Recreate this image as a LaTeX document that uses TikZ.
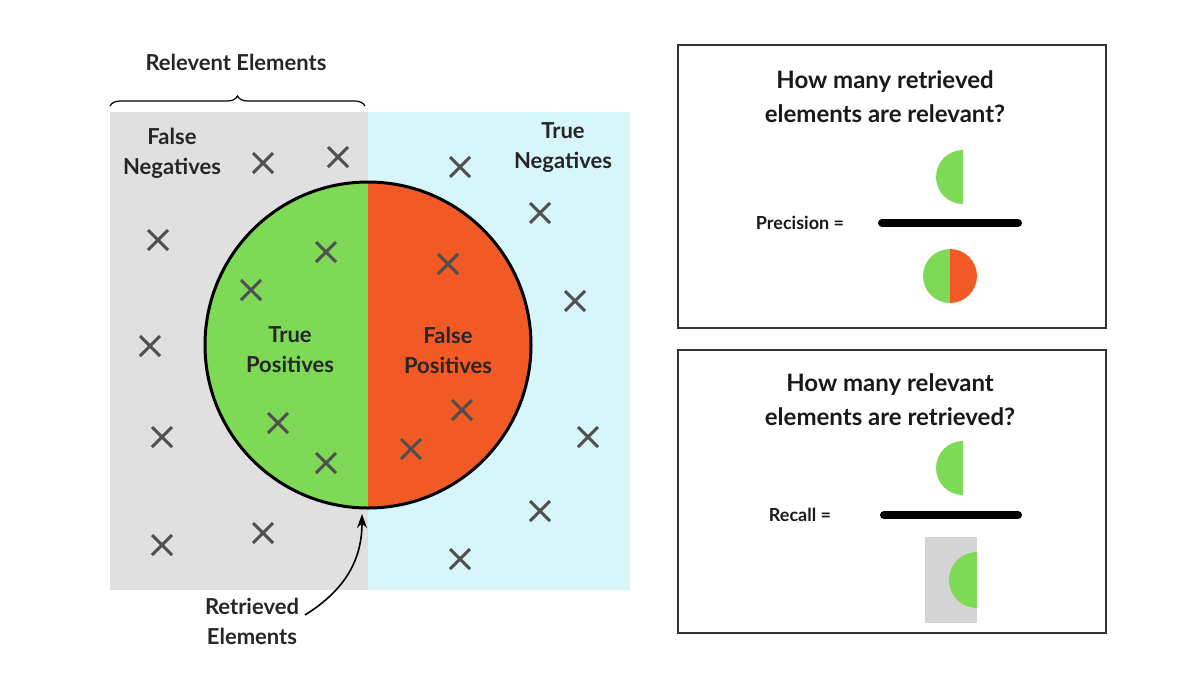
\documentclass[tikz,border=0pt]{standalone}
\usepackage{fontspec}
\setmainfont{Lato}
\usetikzlibrary{positioning, arrows.meta, decorations.pathreplacing}
\definecolor{tpgreen}{HTML}{7ED957}
\definecolor{fporange}{HTML}{F15A24}
\definecolor{fngray}{HTML}{E0E0E0}
\definecolor{tncyan}{HTML}{D7F6FA}
\definecolor{xgray}{HTML}{505050}
\begin{document}
\begin{tikzpicture}[
    x=1pt, y=-1pt,
    lbl/.style={align=center, font=\fontsize{22}{30}\selectfont\bfseries, text=black!85},
    title/.style={align=center, font=\fontsize{24}{34}\selectfont\bfseries, text=black!90},
    eq/.style={font=\fontsize{18}{22}\selectfont\bfseries, text=black!90},
    panel/.style={draw=black!80, line width=1.2pt},
    bar/.style={line width=8pt, line cap=round},
    xmark/.style={xgray, line width=3pt},
    arrow/.style={-{Stealth[length=14pt,width=10pt]}, line width=1.6pt}
]
\useasboundingbox (0,0) rectangle (1200,675);

% Regions
\fill[fngray] (110,112) rectangle (368,590);
\fill[tncyan] (368,112) rectangle (630,590);

% Retrieved circle
\fill[tpgreen] (368,182) arc[start angle=270, end angle=90, radius=163] -- cycle;
\fill[fporange] (368,182) arc[start angle=270, end angle=450, radius=163] -- cycle;
\draw[line width=3pt] (368,345) circle[radius=163];
\coordinate (circbot) at (362,514);

% Crosses
\foreach \px/\py in {263/163, 338/157, 158/240, 150/346, 162/437, 162/545, 263/533,
    326/252, 251/290, 278/423, 326/463, 460/167, 540/213, 575/301, 448/264,
    462/410, 411/449, 588/437, 540/511, 460/559}
    \draw[xmark] (\px-10,\py-10) -- (\px+10,\py+10) (\px-10,\py+10) -- (\px+10,\py-10);

% Labels
\draw[decorate, decoration={brace, amplitude=10pt, mirror}, line width=1.2pt]
    (365,106) -- (110,106);
\node[lbl] (relevant) at (236,62) {Relevent Elements};
\node[lbl] (fn) at (172,153) {False\\Negatives};
\node[lbl] (tn) at (563,148) {True\\Negatives};
\node[lbl] (tp) at (290,350) {True\\Positives};
\node[lbl] (fp) at (448,350) {False\\Positives};
\node[lbl] (retrieved) at (252,621) {Retrieved\\Elements};
\draw[arrow] (305,615) .. controls (345,590) and (362,560) .. (circbot);

% Precision panel
\node[panel, minimum width=428pt, minimum height=283pt] (precbox) at (892,186.5) {};
\node[title] (prectitle) at (885,97) {How many retrieved\\elements are relevant?};
\node[eq] (preceq) at (800,223) {Precision =};
\draw[bar] (882,223) -- (1018,223);
\fill[tpgreen] (963,150) arc[start angle=270, end angle=90, radius=27] -- cycle;
\fill[tpgreen] (950,249) arc[start angle=270, end angle=90, radius=27] -- cycle;
\fill[fporange] (950,249) arc[start angle=270, end angle=450, radius=27] -- cycle;

% Recall panel
\node[panel, minimum width=428pt, minimum height=283pt] (recbox) at (892,491.5) {};
\node[title] (rectitle) at (890,400) {How many relevant\\elements are retrieved?};
\node[eq] (receq) at (800,515) {Recall =};
\draw[bar] (884,515) -- (1018,515);
\fill[tpgreen] (963,441) arc[start angle=270, end angle=90, radius=27] -- cycle;
\fill[black!17] (925,537) rectangle (977,623);
\fill[tpgreen] (977,552) arc[start angle=270, end angle=90, radius=28] -- cycle;
\end{tikzpicture}
\end{document}
